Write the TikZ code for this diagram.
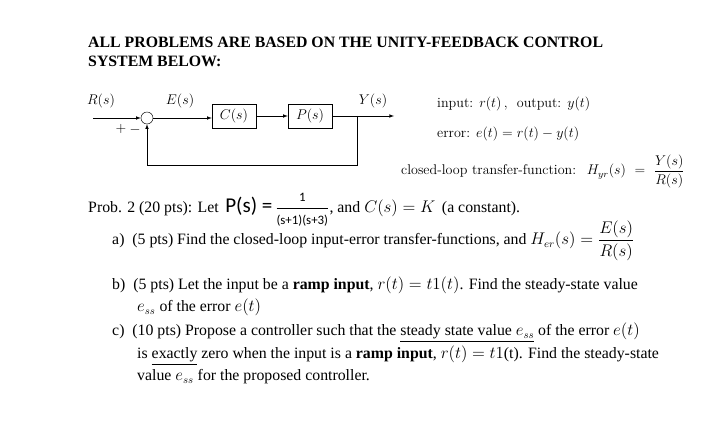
\documentclass[tikz,border=0pt]{standalone}
\usepackage{amsmath}
\usepackage{fontspec}
\setmainfont{Liberation Serif}
\newfontfamily\calfont{Carlito}
\newfontfamily\lmfont{Latin Modern Roman}
\begin{document}
\begin{tikzpicture}[x=0.03cm,y=-0.03cm,
  txt/.style={anchor=base west,inner sep=0pt,font=\fontsize{13.5}{15}\selectfont},
  dg/.style={inner sep=0pt,font=\fontsize{12}{14}\selectfont\lmfont},
  blk/.style={draw,minimum width=44*0.03cm,minimum height=24*0.03cm,inner sep=0pt,font=\fontsize{12}{14}\selectfont},
  sig/.style={-latex}]
\useasboundingbox (0,0) rectangle (719,427);
% title
\node[txt,font=\fontsize{13.5}{15}\selectfont\bfseries] (t1) at (88,48) {ALL PROBLEMS ARE BASED ON THE UNITY-FEEDBACK CONTROL};
\node[txt,font=\fontsize{13.5}{15}\selectfont\bfseries] (t2) at (88,67) {SYSTEM BELOW:};
% block diagram
\coordinate (in) at (93,118);
\node[draw,circle,minimum size=12*0.03cm,inner sep=0pt] (sum) at (147,118) {};
\node[blk] (C) at (234,116) {$C(s)$};
\node[blk] (P) at (310,116) {$P(s)$};
\coordinate (br) at (357,116);
\coordinate (out) at (394,116);
\coordinate (fb) at (357,165);
\coordinate (fb2) at (147,165);
\draw[sig] (in) -- (sum);
\draw[sig] (sum.east) -- (sum.east -| C.west);
\draw[sig] (C) -- (P);
\draw[sig] (P.east) -- (out);
\draw (br) -- (fb) -- (fb2);
\draw[sig] (fb2) -- (sum);
\node[dg] (R) at (101,101) {$R(s)$};
\node[dg] (E) at (180,101) {$E(s)$};
\node[dg] (Y) at (373,101) {$Y(s)$};
\node[dg] (plus) at (121,129) {$+$};
\node[dg] (minus) at (135,130) {$-$};
\node[dg,anchor=base west] (io) at (437,108) {input: $r(t)$\,, \ output: $y(t)$};
\node[dg,anchor=base west] (er) at (437,138) {error: $e(t)=r(t)-y(t)$};
\node[dg,anchor=base west] (cl) at (401,175) {closed-loop transfer-function: \ $H_{yr}(s)\ =\ \dfrac{Y(s)}{R(s)}$};
% problem text
\node[txt] (p2) at (88,213) {Prob. 2 (20 pts): Let \,{\calfont\fontsize{18}{20}\selectfont P(s) =}\,$\dfrac{\text{\calfont\fontsize{11}{12}\selectfont 1}}{\text{\calfont\fontsize{11}{12}\selectfont (s+1)(s+3)}}$, and $C(s)=K$\, (a constant).};
\node[txt] (pa) at (112,245) {a)\ \ (5 pts) Find the closed-loop input-error transfer-functions, and $H_{er}(s)=\dfrac{E(s)}{R(s)}$};
\node[txt] (pb) at (112,290) {b)\ \ (5 pts) Let the input be a \textbf{ramp input}, $r(t)=t1(t)$. Find the steady-state value};
\node[txt] (pb2) at (137,312) {$e_{ss}$ of the error $e(t)$};
\node[txt] (pc) at (112,336) {c)\ \ (10 pts) Propose a controller such that the \underline{steady state value $e_{ss}$} of the error $e(t)$};
\node[txt] (pc2) at (137,359) {is \underline{exactly} zero when the input is a \textbf{ramp input}, $r(t)=t1$(t). Find the steady-state};
\node[txt] (pc3) at (137,381) {value $e_{ss}$ for the proposed controller.};
\end{tikzpicture}
\end{document}
